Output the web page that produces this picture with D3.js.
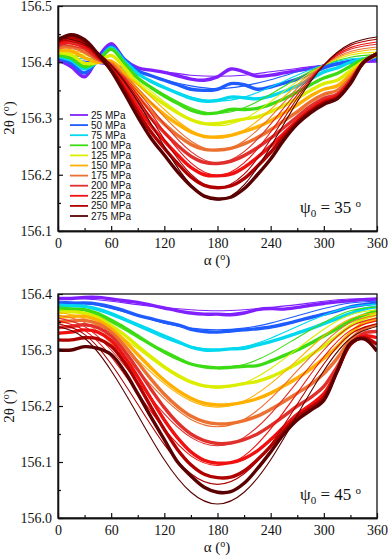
<!DOCTYPE html>
<html>
<head>
<meta charset="utf-8">
<script src="https://cdn.jsdelivr.net/npm/d3@7"></script>
<style>
  body { margin: 0; background: #fff; }
  svg { display: block; }
  .serif { font-family: "Liberation Serif", "DejaVu Serif", "Times New Roman", Times, serif; }
  .sans { font-family: "Liberation Sans", Arial, Helvetica, sans-serif; }
</style>
</head>
<body>
<div id="chart"></div>
<script>
// stress levels (legend) and colours
var stress = [25, 50, 75, 100, 125, 150, 175, 200, 225, 250, 275];
var colors = ["#8020ff", "#1f5cff", "#00d8f0", "#3cdc14", "#dcee00", "#ffb000",
              "#ec7030", "#e0302c", "#f01010", "#b00000", "#5a0000"];

// angles
var alphaFit = [0, 30, 60, 90, 120, 150, 180, 210, 240, 270, 300, 330, 360];
var alphaExp = [0, 15, 30, 45, 60, 75, 90, 105, 120, 135, 150, 165, 180,
                195, 210, 225, 240, 255, 270, 285, 300, 315, 330, 345, 360];
var xTicks = [0, 60, 120, 180, 240, 300, 360];
var yTicks35 = [156.1, 156.2, 156.3, 156.4, 156.5];
var yTicks45 = [156.0, 156.1, 156.2, 156.3, 156.4];

// psi0 = 35 : fitted curves
var fit35 = [
  [156.400,156.399,156.395,156.389,156.383,156.377,156.375,156.377,156.383,156.389,156.395,156.399,156.400],
  [156.405,156.402,156.395,156.383,156.369,156.358,156.353,156.358,156.369,156.383,156.395,156.402,156.405],
  [156.409,156.406,156.395,156.377,156.356,156.338,156.331,156.338,156.356,156.377,156.395,156.406,156.409],
  [156.414,156.409,156.395,156.371,156.343,156.319,156.309,156.319,156.343,156.371,156.395,156.409,156.414],
  [156.418,156.413,156.395,156.366,156.330,156.299,156.287,156.299,156.330,156.366,156.395,156.413,156.418],
  [156.423,156.416,156.395,156.360,156.316,156.279,156.265,156.279,156.316,156.360,156.395,156.416,156.423],
  [156.427,156.419,156.395,156.354,156.303,156.260,156.243,156.260,156.303,156.354,156.395,156.419,156.427],
  [156.432,156.423,156.395,156.348,156.290,156.241,156.221,156.241,156.290,156.348,156.395,156.423,156.432],
  [156.436,156.426,156.395,156.342,156.276,156.221,156.199,156.221,156.276,156.342,156.395,156.426,156.436],
  [156.441,156.430,156.395,156.336,156.263,156.201,156.177,156.201,156.263,156.336,156.395,156.430,156.441],
  [156.445,156.433,156.395,156.330,156.250,156.182,156.155,156.182,156.250,156.330,156.395,156.433,156.445]
];

// psi0 = 35 : measured curves
var exp35 = [
  [156.404,156.392,156.374,156.408,156.433,156.405,156.390,156.386,156.382,156.376,156.370,156.368,156.374,156.388,156.383,156.375,156.377,156.381,156.385,156.389,156.393,156.397,156.400,156.402,156.404],
  [156.407,156.398,156.381,156.404,156.428,156.405,156.385,156.376,156.368,156.360,156.352,156.350,156.352,156.362,156.360,156.352,156.356,156.363,156.370,156.380,156.390,156.397,156.402,156.405,156.407],
  [156.410,156.403,156.388,156.402,156.426,156.402,156.380,156.366,156.355,156.345,156.336,156.331,156.332,156.338,156.337,156.335,156.340,156.348,156.358,156.370,156.383,156.390,156.400,156.406,156.410],
  [156.413,156.407,156.392,156.402,156.423,156.398,156.372,156.355,156.340,156.327,156.315,156.309,156.310,156.316,156.316,156.318,156.325,156.335,156.347,156.360,156.372,156.380,156.393,156.405,156.412],
  [156.417,156.413,156.398,156.400,156.412,156.390,156.362,156.342,156.325,156.310,156.298,156.291,156.291,156.295,156.299,156.303,156.312,156.323,156.336,156.350,156.362,156.368,156.385,156.402,156.413],
  [156.421,156.420,156.408,156.400,156.402,156.380,156.350,156.327,156.307,156.290,156.276,156.268,156.267,156.270,156.277,156.285,156.296,156.310,156.324,156.340,156.352,156.358,156.378,156.400,156.414],
  [156.425,156.428,156.418,156.404,156.398,156.372,156.340,156.313,156.290,156.270,156.254,156.245,156.244,156.247,156.255,156.266,156.280,156.296,156.312,156.330,156.343,156.350,156.372,156.400,156.415],
  [156.429,156.435,156.425,156.407,156.394,156.364,156.330,156.300,156.275,156.252,156.233,156.222,156.220,156.224,156.234,156.248,156.265,156.284,156.303,156.322,156.336,156.343,156.368,156.400,156.415],
  [156.433,156.440,156.431,156.410,156.390,156.357,156.320,156.287,156.260,156.235,156.213,156.200,156.198,156.201,156.213,156.231,156.251,156.274,156.296,156.316,156.331,156.340,156.366,156.400,156.415],
  [156.437,156.445,156.436,156.412,156.387,156.351,156.311,156.276,156.247,156.220,156.196,156.181,156.177,156.180,156.193,156.215,156.240,156.268,156.293,156.313,156.328,156.337,156.364,156.400,156.415],
  [156.440,156.449,156.440,156.415,156.385,156.345,156.303,156.265,156.235,156.205,156.180,156.162,156.157,156.160,156.175,156.200,156.228,156.262,156.290,156.310,156.325,156.335,156.362,156.400,156.415]
];

// psi0 = 45 : fitted curves
var fit45 = [
  [156.392,156.391,156.387,156.381,156.376,156.372,156.370,156.372,156.376,156.381,156.387,156.391,156.392],
  [156.387,156.384,156.374,156.361,156.348,156.339,156.336,156.339,156.348,156.361,156.374,156.384,156.387],
  [156.382,156.377,156.362,156.342,156.321,156.306,156.301,156.306,156.321,156.342,156.362,156.377,156.382],
  [156.377,156.370,156.349,156.322,156.294,156.274,156.267,156.274,156.294,156.322,156.349,156.370,156.377],
  [156.372,156.363,156.337,156.302,156.267,156.241,156.232,156.241,156.267,156.302,156.337,156.363,156.372],
  [156.367,156.356,156.325,156.282,156.240,156.209,156.198,156.209,156.240,156.282,156.325,156.356,156.367],
  [156.362,156.349,156.312,156.263,156.213,156.176,156.163,156.176,156.213,156.263,156.312,156.349,156.362],
  [156.357,156.342,156.300,156.243,156.186,156.144,156.129,156.144,156.186,156.243,156.300,156.342,156.357],
  [156.352,156.335,156.288,156.223,156.159,156.111,156.094,156.111,156.159,156.223,156.288,156.335,156.352],
  [156.347,156.328,156.275,156.203,156.131,156.079,156.060,156.079,156.131,156.203,156.275,156.328,156.347],
  [156.342,156.321,156.263,156.184,156.104,156.046,156.025,156.046,156.104,156.184,156.263,156.321,156.342]
];

// psi0 = 45 : measured curves
var exp45 = [
  [156.392,156.392,156.394,156.394,156.391,156.388,156.385,156.380,156.375,156.370,156.366,156.364,156.364,156.363,156.366,156.372,156.374,156.373,156.376,156.380,156.383,156.386,156.388,156.390,156.391],
  [156.383,156.383,156.384,156.382,156.377,156.370,156.362,156.356,156.350,156.345,156.337,156.333,156.332,156.334,156.336,156.338,156.341,156.346,156.352,156.358,156.364,156.370,156.377,156.381,156.384],
  [156.378,156.379,156.378,156.373,156.365,156.355,156.345,156.335,156.325,156.315,156.305,156.300,156.300,156.302,156.303,156.309,156.315,156.322,156.330,156.338,156.347,156.356,156.365,156.373,156.377],
  [156.372,156.373,156.372,156.365,156.353,156.340,156.325,156.310,156.297,156.285,156.275,156.270,156.268,156.269,156.271,156.272,156.280,156.290,156.300,156.312,156.325,156.338,156.352,156.362,156.370],
  [156.366,156.368,156.366,156.358,156.344,156.327,156.307,156.288,156.270,156.255,156.243,156.236,156.234,156.236,156.240,156.244,156.252,156.263,156.276,156.291,156.307,156.325,156.343,156.356,156.364],
  [156.358,156.360,156.360,156.353,156.338,156.317,156.292,156.268,156.246,156.228,156.214,156.205,156.202,156.203,156.207,156.213,156.223,156.236,156.250,156.266,156.285,156.306,156.330,156.348,156.356],
  [156.350,156.352,156.353,156.347,156.332,156.308,156.278,156.248,156.221,156.199,156.182,156.172,156.168,156.169,156.174,156.182,156.194,156.208,156.223,156.238,156.258,156.285,156.318,156.338,156.345],
  [156.340,156.342,156.345,156.340,156.325,156.298,156.265,156.230,156.197,156.170,156.150,156.138,156.133,156.134,156.140,156.150,156.165,156.182,156.200,156.215,156.235,156.270,156.310,156.330,156.333],
  [156.330,156.332,156.336,156.332,156.317,156.288,156.252,156.213,156.175,156.143,156.118,156.103,156.098,156.099,156.106,156.120,156.140,156.163,156.185,156.202,156.222,156.263,156.310,156.325,156.322],
  [156.318,156.318,156.322,156.320,156.307,156.278,156.240,156.198,156.158,156.122,156.095,156.078,156.072,156.073,156.084,156.104,156.128,156.156,156.180,156.197,156.215,156.262,156.310,156.322,156.310],
  [156.300,156.300,156.306,156.303,156.292,156.262,156.222,156.180,156.140,156.100,156.075,156.055,156.046,156.047,156.062,156.088,156.118,156.150,156.175,156.192,156.210,156.262,156.312,156.320,156.298]
];

var W = 388, H = 557;
var svg = d3.select("#chart").append("svg")
    .attr("width", W)
    .attr("height", H);

var x = d3.scaleLinear().domain([0, 360]).range([58, 377]);

var panels = [
  {id: "p35", y: d3.scaleLinear().domain([156.1, 156.5]).range([231, 6]),
   yTicks: yTicks35, fit: fit35, exp: exp35, psi: "35", legend: true, labelY: 118},
  {id: "p45", y: d3.scaleLinear().domain([156.0, 156.4]).range([518, 294]),
   yTicks: yTicks45, fit: fit45, exp: exp45, psi: "45", legend: false, labelY: 406}
];

panels.forEach(function(p) {
    var y = p.y;
    var top = y.range()[1], bottom = y.range()[0];

    svg.append("clipPath").attr("id", "clip-" + p.id)
      .append("rect")
        .attr("x", x(0)).attr("y", top)
        .attr("width", x(360) - x(0)).attr("height", bottom - top);

    var g = svg.append("g").attr("clip-path", "url(#clip-" + p.id + ")");

    var expLine = d3.line()
        .x(function(d, i) { return x(alphaExp[i]); })
        .y(function(d) { return y(d); })
        .curve(d3.curveCatmullRom.alpha(0.5));

    var fitLine = d3.line()
        .x(function(d, i) { return x(alphaFit[i]); })
        .y(function(d) { return y(d); })
        .curve(d3.curveNatural);

    stress.forEach(function(s, k) {
        g.append("path")
            .attr("class", "exp")
            .attr("d", expLine(p.exp[k]))
            .attr("fill", "none")
            .attr("stroke", colors[k])
            .attr("stroke-width", 3.4)
            .attr("stroke-linejoin", "round");
        g.append("path")
            .attr("class", "fit")
            .attr("d", fitLine(p.fit[k]))
            .attr("fill", "none")
            .attr("stroke", colors[k])
            .attr("stroke-width", 1.1);
    });

    // frame
    svg.append("rect")
        .attr("x", x(0)).attr("y", top)
        .attr("width", x(360) - x(0)).attr("height", bottom - top)
        .attr("fill", "none")
        .attr("stroke", "#111")
        .attr("stroke-width", 1.3);

    // x axis (ticks inside)
    var xAxis = d3.axisBottom(x).tickValues(xTicks).tickSize(-5).tickSizeOuter(0).tickPadding(7)
        .tickFormat(d3.format("d"));
    var gx = svg.append("g").attr("transform", "translate(0," + bottom + ")").call(xAxis);
    var xMinor = d3.axisBottom(x).tickValues([30, 90, 150, 210, 270, 330]).tickSize(-3)
        .tickSizeOuter(0).tickFormat("");
    var gxm = svg.append("g").attr("transform", "translate(0," + bottom + ")").call(xMinor);

    // y axis (ticks inside)
    var yAxis = d3.axisLeft(y).tickValues(p.yTicks).tickSize(-5).tickSizeOuter(0).tickPadding(6)
        .tickFormat(d3.format(".1f"));
    var gy = svg.append("g").attr("transform", "translate(" + x(0) + ",0)").call(yAxis);
    var yMinor = d3.axisLeft(y).tickValues(p.yTicks.slice(0, -1).map(function(v) { return v + 0.05; }))
        .tickSize(-3).tickSizeOuter(0).tickFormat("");
    var gym = svg.append("g").attr("transform", "translate(" + x(0) + ",0)").call(yMinor);

    [gx, gxm, gy, gym].forEach(function(a) {
        a.attr("font-family", null).attr("font-size", null);
        a.select(".domain").attr("stroke", "#111").attr("stroke-width", 1.3);
        a.selectAll(".tick line").attr("stroke", "#111").attr("stroke-width", 1.2);
        a.selectAll("text")
            .attr("class", "serif")
            .style("font-size", "14px")
            .attr("fill", "#111");
    });

    // axis titles
    var xt = svg.append("text")
        .attr("class", "serif")
        .attr("x", 217).attr("y", bottom + 34)
        .attr("text-anchor", "middle")
        .style("font-size", "15px")
        .attr("fill", "#111");
    xt.append("tspan").text("\u03b1 (");
    xt.append("tspan").style("font-size", "10px").attr("dy", -5).text("o");
    xt.append("tspan").attr("dy", 5).text(")");

    var yt = svg.append("text")
        .attr("class", "serif")
        .attr("transform", "translate(14," + p.labelY + ") rotate(-90)")
        .attr("text-anchor", "middle")
        .style("font-size", "15px")
        .attr("fill", "#111");
    yt.append("tspan").text("2\u03b8 (");
    yt.append("tspan").style("font-size", "10px").attr("dy", -5).text("o");
    yt.append("tspan").attr("dy", 5).text(")");

    // psi annotation
    var pt = svg.append("text")
        .attr("class", "serif")
        .attr("x", 300).attr("y", bottom - 18)
        .style("font-size", "17px")
        .attr("fill", "#111");
    pt.append("tspan").text("\u03c8");
    pt.append("tspan").style("font-size", "11px").attr("dy", 4).text("0");
    pt.append("tspan").attr("dy", -4).text(" = " + p.psi + " ");
    pt.append("tspan").style("font-size", "11px").attr("dy", -6).text("o");

    if (p.legend) {
        var lg = svg.append("g").attr("class", "legend");
        stress.forEach(function(s, k) {
            var ly = 115 + k * 10.1;
            lg.append("line")
                .attr("x1", 70).attr("x2", 88)
                .attr("y1", ly).attr("y2", ly)
                .attr("stroke", colors[k])
                .attr("stroke-width", 1.8);
            lg.append("text")
                .attr("class", "sans")
                .attr("x", 91).attr("y", ly + 3.5)
                .style("font-size", "10px")
                .attr("fill", "#111")
                .text(s + " MPa");
        });
    }
});
</script>
</body>
</html>
